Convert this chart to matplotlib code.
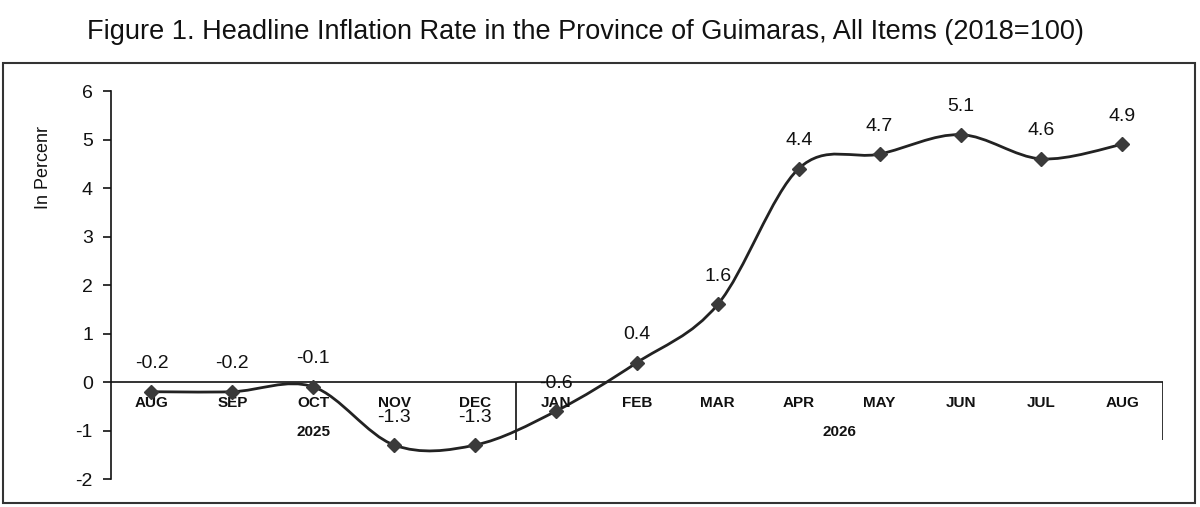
import matplotlib
matplotlib.use("Agg")
import matplotlib.pyplot as plt
from matplotlib.path import Path
from matplotlib.patches import PathPatch, Rectangle
import numpy as np

plt.rcParams['font.family'] = ['Liberation Sans', 'DejaVu Sans']
plt.rcParams['axes.unicode_minus'] = False

months = ["AUG", "SEP", "OCT", "NOV", "DEC", "JAN", "FEB", "MAR", "APR", "MAY", "JUN", "JUL", "AUG"]
rates = [-0.2, -0.2, -0.1, -1.3, -1.3, -0.6, 0.4, 1.6, 4.4, 4.7, 5.1, 4.6, 4.9]
years = ["2025", "2026"]
year_spans = [(0, 4), (5, 12)]

fig = plt.figure(figsize=(12, 5.07), dpi=100)
ax = fig.add_axes([0.0925, 0.0552, 0.969 - 0.0925, 0.8205 - 0.0552])

x = np.arange(len(rates))
y = np.array(rates)

# smoothed line (Catmull-Rom style bezier like the Excel "smoothed line")
verts = [(x[0], y[0])]
codes = [Path.MOVETO]
t = 1 / 6
for i in range(len(x) - 1):
    p0 = (x[max(i - 1, 0)], y[max(i - 1, 0)])
    p1 = (x[i], y[i])
    p2 = (x[i + 1], y[i + 1])
    p3 = (x[min(i + 2, len(x) - 1)], y[min(i + 2, len(x) - 1)])
    c1 = (p1[0] + (p2[0] - p0[0]) * t, p1[1] + (p2[1] - p0[1]) * t)
    c2 = (p2[0] - (p3[0] - p1[0]) * t, p2[1] - (p3[1] - p1[1]) * t)
    verts += [c1, c2, p2]
    codes += [Path.CURVE4] * 3
ax.add_patch(PathPatch(Path(verts, codes), facecolor="none", edgecolor="#222222", lw=2, zorder=3))
ax.plot(x, y, linestyle="none", marker="D", markersize=7, color="#3a3a3a", zorder=4)

for xi, v in zip(x, rates):
    ax.annotate(f"{v:.1f}", (xi, v), xytext=(0, 28), textcoords="offset pixels",
                ha="center", va="center", fontsize=14, color="#111111")

# category axis at zero
ax.axhline(0, color="#111111", lw=1.2, zorder=2)
ax.vlines([4.5, 12.5], -1.2, 0, color="#111111", lw=1.2)
narrow = ["Liberation Sans Narrow", "Liberation Sans"]
for xi, m in zip(x, months):
    ax.annotate(m, (xi, 0), xytext=(0, -21), textcoords="offset pixels",
                ha="center", va="center", fontsize=11, fontweight="bold",
                family=narrow, color="#111111")
for yr, (a, b) in zip(years, year_spans):
    ax.annotate(yr, ((a + b) / 2, 0), xytext=(0, -50), textcoords="offset pixels",
                ha="center", va="center", fontsize=11, fontweight="bold",
                family=narrow, color="#111111")

ax.set_xlim(-0.5, 12.5)
ax.set_ylim(-2, 6)
ax.set_yticks(range(-2, 7))
ax.set_xticks([])
for s in ["top", "right", "bottom"]:
    ax.spines[s].set_visible(False)
ax.spines["left"].set_color("#111111")
ax.spines["left"].set_linewidth(1.2)
ax.tick_params(axis="y", direction="out", length=6, width=1.2, labelsize=14, pad=7, colors="#111111")

fig.text(0.036, 0.669, "In Percenr", rotation=90, ha="center", va="center", fontsize=13, color="#111111")
fig.text(0.4875, 0.937, "Figure 1. Headline Inflation Rate in the Province of Guimaras, All Items (2018=100)",
         ha="center", va="center", fontsize=19.5, color="#111111")

fig.patches.append(Rectangle((0.0025, 0.008), 0.993, 0.868, transform=fig.transFigure,
                             fill=False, edgecolor="#333333", lw=1.5))

fig.savefig("out.png", dpi=100)
